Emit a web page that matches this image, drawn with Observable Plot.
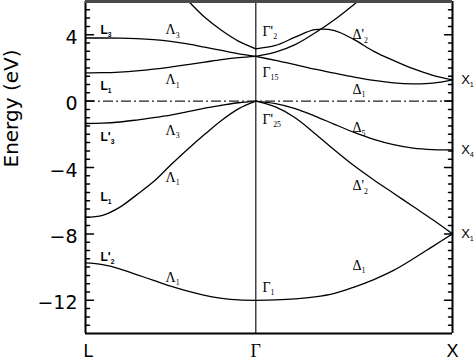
<!DOCTYPE html>
<html><head><meta charset="utf-8">
<script src="https://cdn.jsdelivr.net/npm/d3@7"></script>
<script src="https://cdn.jsdelivr.net/npm/@observablehq/plot@0.6"></script>
<style>html,body{margin:0;padding:0;background:#fff;} svg{display:block;}</style>
</head><body><div id="chart"></div>
<script>
// k-path positions (units of 2π/a): L, Γ, X
const kL = 0, kGamma = 0.866, kX = 1.866;
const xTicks = [kL, kGamma, kX];
const xTickLabels = ["L", "Γ", "X"];
const eMin = -14, eMax = 6;
const yMajor = [-12, -8, -4, 0, 4];
const yMinor = d3.range(-13.5, 6, 0.5).filter(v => v % 4 !== 0);
const yLabel = "Energy (eV)";

// sample fractions along each segment
const frac = [0, 0.1, 0.2, 0.3, 0.4, 0.5, 0.6, 0.7, 0.8, 0.9, 1];

// L → Γ bands (eV), fraction measured from L
const lg1 = [-9.75, -9.85, -10.1, -10.45, -10.8, -11.15, -11.45, -11.7, -11.88, -11.98, -12.0];
const lg2 = [-7.0, -6.88, -6.4, -5.65, -4.85, -3.85, -2.9, -2.0, -1.15, -0.45, 0];
const lg3 = [-1.35, -1.33, -1.26, -1.14, -1.0, -0.85, -0.64, -0.42, -0.25, -0.1, 0];
const lg4 = [1.7, 1.71, 1.75, 1.82, 1.92, 2.05, 2.2, 2.35, 2.5, 2.62, 2.7];
const lg5 = [3.8, 3.8, 3.79, 3.76, 3.7, 3.6, 3.45, 3.25, 3.05, 2.85, 2.7];
const lg6Frac = [0.606, 0.7, 0.8, 0.9, 1];
const lg6 = [6.0, 5.05, 4.25, 3.6, 3.15];

// Γ → X bands (eV), fraction measured from Γ
const gx1 = [-12.0, -11.98, -11.92, -11.8, -11.58, -11.2, -10.75, -10.2, -9.5, -8.75, -8.0];
const gx2 = [0, -0.35, -1.0, -1.95, -2.95, -3.9, -4.75, -5.55, -6.35, -7.15, -8.0];
const gx3 = [0, -0.15, -0.45, -0.9, -1.4, -1.88, -2.3, -2.62, -2.83, -2.92, -2.94];
const gx4 = [2.7, 2.45, 2.2, 1.92, 1.68, 1.45, 1.25, 1.1, 1.04, 1.08, 1.28];
const gx5 = [3.15, 3.35, 3.85, 4.3, 4.25, 3.7, 3.0, 2.45, 1.95, 1.55, 1.28];
const gx6Frac = [0, 0.1, 0.2, 0.3, 0.4, 0.518];
const gx6 = [2.7, 2.95, 3.4, 4.1, 4.9, 6.0];

// symmetry labels ("_" marks the subscript)
const labelText = ["L_3","Λ_3","L_1","Λ_1","L'_3","Λ_3","Λ_1","L_1","L'_2","Λ_1",
                   "Γ'_2","Γ_15","Γ'_25","Γ_1",
                   "Δ'_2","Δ_1","Δ_5","Δ'_2","Δ_1",
                   "X_1","X_4","X_1"];
const labelK = [0.076,0.407,0.076,0.407,0.076,0.407,0.407,0.076,0.076,0.407,
                0.90,0.90,0.90,0.90,
                1.358,1.358,1.358,1.358,1.358,
                1.91,1.91,1.91];
const labelE = [4.3,4.3,0.9,1.3,-2.15,-1.75,-4.6,-5.8,-9.4,-10.6,
                4.2,1.75,-1.1,-11.2,
                4.0,0.7,-1.6,-5.1,-9.9,
                1.3,-2.95,-8.0];

// build table
const rows = [];
function addBand(name, fr, vals, k0, k1) {
  fr.forEach((f, i) => rows.push({band: name, k: k0 + f * (k1 - k0), e: vals[i]}));
}
[[lg1,"lg1"],[lg2,"lg2"],[lg3,"lg3"],[lg4,"lg4"],[lg5,"lg5"]].forEach(([v,n]) => addBand(n, frac, v, kL, kGamma));
addBand("lg6", lg6Frac, lg6, kL, kGamma);
[[gx1,"gx1"],[gx2,"gx2"],[gx3,"gx3"],[gx4,"gx4"],[gx5,"gx5"]].forEach(([v,n]) => addBand(n, frac, v, kGamma, kX));
addBand("gx6", gx6Frac, gx6, kGamma, kX);

const labels = labelText.map((t, i) => ({t, k: labelK[i], e: labelE[i]}));
const isGreek = d => d.t.charCodeAt(0) > 127;
const tickShape = {draw(ctx, l) { ctx.moveTo(0, 0); ctx.lineTo(0, -l); }};
const fmt = d => d < 0 ? "\u2212" + Math.abs(d) : String(d);
const xfmt = d => xTickLabels[xTicks.indexOf(d)];

const plot = Plot.plot({
  width: 474, height: 361,
  marginLeft: 85, marginRight: 22, marginTop: 1, marginBottom: 28,
  x: {domain: [kL, kX]},
  y: {domain: [eMin, eMax]},
  style: {background: "white", color: "black", fontFamily: "DejaVu Sans", overflow: "visible"},
  marks: [
    Plot.line(rows, {x: "k", y: "e", z: "band", stroke: "black", strokeWidth: 1.3, curve: "catmull-rom"}),
    Plot.ruleY([0], {stroke: "#222", strokeWidth: 1.2, strokeDasharray: "10,3,2,3"}),
    Plot.ruleX([kGamma], {stroke: "black", strokeWidth: 1.1}),
    Plot.ruleX([kL, kX], {stroke: "black", strokeWidth: 2}),
    Plot.ruleY([eMin], {stroke: "black", strokeWidth: 2}),
    Plot.ruleY([eMax], {stroke: "#4a4a4a", strokeWidth: 3}),
    // inward ticks
    Plot.vector(yMinor, {x: () => kL, y: d => d, length: 4, rotate: 90, anchor: "start", shape: tickShape, stroke: "black", strokeWidth: 1.5}),
    Plot.vector(yMajor, {x: () => kL, y: d => d, length: 8, rotate: 90, anchor: "start", shape: tickShape, stroke: "black", strokeWidth: 1.5}),
    Plot.vector(yMinor, {x: () => kX, y: d => d, length: 4, rotate: -90, anchor: "start", shape: tickShape, stroke: "black", strokeWidth: 1.5}),
    Plot.vector(yMajor, {x: () => kX, y: d => d, length: 8, rotate: -90, anchor: "start", shape: tickShape, stroke: "black", strokeWidth: 1.5}),
    Plot.axisY(yMajor, {anchor: "left", tickSize: 0, tickPadding: 8, tickFormat: fmt, fontSize: 19, fontFamily: "DejaVu Sans", dy: 3, label: null}),
    Plot.axisX([kL], {anchor: "bottom", tickSize: 0, tickPadding: 11, tickFormat: xfmt, fontSize: 18, fontFamily: "Liberation Sans", dx: 3, label: null}),
    Plot.axisX([kX], {anchor: "bottom", tickSize: 0, tickPadding: 11, tickFormat: xfmt, fontSize: 18, fontFamily: "Liberation Sans", label: null}),
    Plot.axisX([kGamma], {anchor: "bottom", tickSize: 0, tickPadding: 11, tickFormat: xfmt, fontSize: 18, fontFamily: "Liberation Serif", label: null}),
    Plot.text([yLabel], {frameAnchor: "left", text: d => d, rotate: -90, dx: -74, fontSize: 20, fontFamily: "DejaVu Sans"}),
    // band labels
    Plot.text(labels.filter(d => d.t[0] === "L"), {x: "k", y: "e", text: "t", textAnchor: "start", fontSize: 12, fontWeight: "bold", fontFamily: "Liberation Sans"}),
    Plot.text(labels.filter(d => d.t[0] === "X"), {x: "k", y: "e", text: "t", textAnchor: "start", fontSize: 13, fontFamily: "Liberation Sans"}),
    Plot.text(labels.filter(isGreek), {x: "k", y: "e", text: "t", textAnchor: "start", fontSize: 14, fontFamily: "Liberation Serif"})
  ]
});

// turn "_" into subscript tspans
plot.querySelectorAll("text").forEach(t => {
  const s = t.textContent;
  const i = s.indexOf("_");
  if (i < 0) return;
  t.textContent = s.slice(0, i);
  const sub = document.createElementNS("http://www.w3.org/2000/svg", "tspan");
  sub.setAttribute("dy", "0.45em");
  sub.setAttribute("font-size", "0.56em");
  sub.textContent = s.slice(i + 1);
  t.appendChild(sub);
});
document.getElementById("chart").appendChild(plot);
</script>
</body></html>
